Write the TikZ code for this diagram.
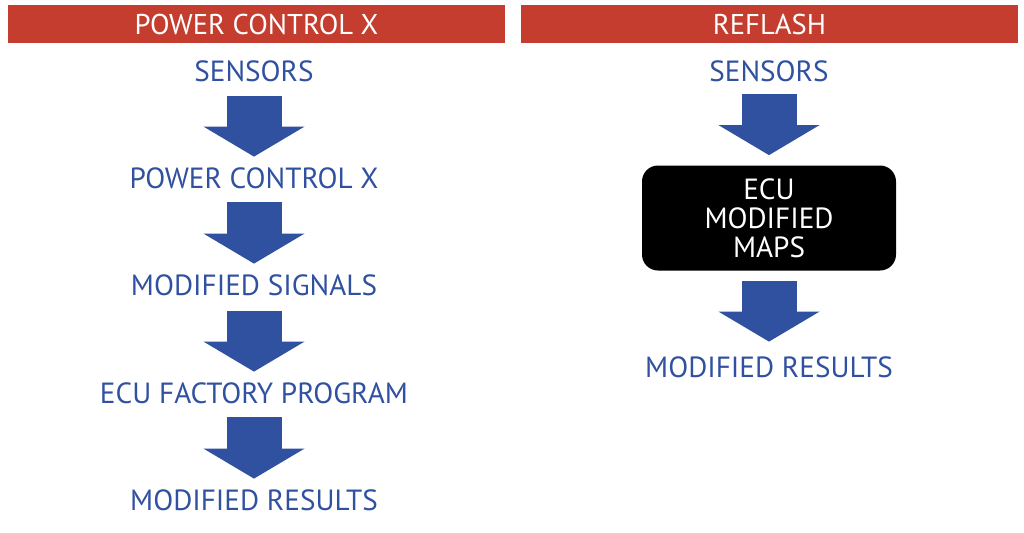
\documentclass[tikz,border=0pt]{standalone}
\usepackage{fontspec}
\setmainfont{PT Sans}
\usepackage{xcolor}
\usepackage{tikz}
\usetikzlibrary{arrows.meta,positioning}
\definecolor{headred}{HTML}{C43D2E}
\definecolor{flowblue}{HTML}{3050A0}

\begin{document}
\begin{tikzpicture}[x=0.5pt,y=-0.5pt,font=\fontsize{14.6}{14.5}\selectfont,
  head/.style={fill=headred,text=white,minimum width=248.5pt,minimum height=19pt,
               inner sep=0pt,font=\fontsize{14.3}{14.5}\selectfont},
  lbl/.style={text=flowblue,inner sep=0pt,text height=10pt,text depth=0pt},
  mapbox/.style={fill=black,text=white,rounded corners=8pt,minimum width=127pt,
                 minimum height=52.5pt,align=center,inner sep=0pt},
  fat/.style={draw=flowblue,line width=27.5pt,line cap=butt,
              -{Triangle[width=50.5pt,length=15pt,line width=0pt]},
              shorten <=7pt,shorten >=5.5pt},
]
\useasboundingbox (0,0) rectangle (1024,532);

\node[head] (headL) at (256.5,24) {POWER CONTROL X};
\node[head] (headR) at (769.5,24) {REFLASH};

% left column
\node[lbl] (sensL)  at (254,71.5) {SENSORS};
\node[lbl] (pcx)    at (254,178)  {POWER CONTROL X};
\node[lbl] (modsig) at (254,285)  {MODIFIED SIGNALS};
\node[lbl] (ecufac) at (254,393)  {ECU FACTORY PROGRAM};
\node[lbl] (resL)   at (254,500)  {MODIFIED RESULTS};
\draw[fat] (sensL.south) -- (pcx.north);
\draw[fat] (pcx.south) -- (modsig.north);
\draw[fat,shorten <=8pt] (modsig.south) -- (ecufac.north);
\draw[fat] (ecufac.south) -- (resL.north);

% right column
\node[lbl] (sensR) at (769,71.5) {SENSORS};
\node[mapbox] (maps) at (769,218) {ECU\\MODIFIED\\MAPS};
\node[lbl] (resR) at (769,367) {MODIFIED RESULTS};
\draw[fat,shorten <=6pt,shorten >=5pt] (sensR.south) -- (maps.north);
\draw[fat,shorten <=5pt,shorten >=7.5pt] (maps.south) -- (resR.north);
\end{tikzpicture}
\end{document}
